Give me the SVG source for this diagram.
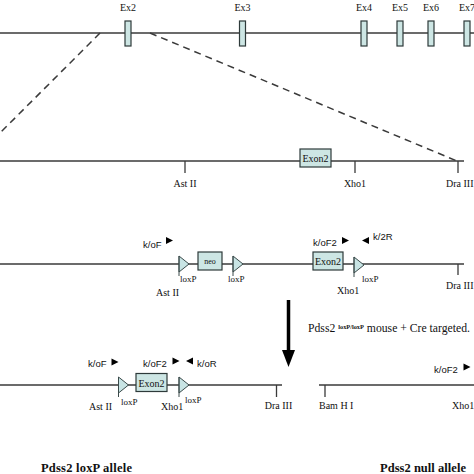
<svg xmlns="http://www.w3.org/2000/svg" width="474" height="474" viewBox="0 0 474 474">
<style>
.ln{stroke:#3a3a3a;stroke-width:1.5;fill:none}
.dash{stroke:#3a3a3a;stroke-width:1.5;fill:none;stroke-dasharray:7,5}
.tick{stroke:#3a3a3a;stroke-width:1.3}
.ex{fill:#cde6e4;stroke:#2e3a3a;stroke-width:1.2}
.lox{fill:#c8e4e4;stroke:#3a4a4a;stroke-width:1}
.ser{font-family:"Liberation Serif","Times New Roman",serif;font-size:10px;fill:#111}
.sm{font-family:"Liberation Serif","Times New Roman",serif;font-size:9px;fill:#111}
.san{font-family:"Liberation Sans",Arial,sans-serif;font-size:9.5px;fill:#111}
.ttl{font-family:"Liberation Serif","Times New Roman",serif;font-size:12.5px;font-weight:bold;fill:#111}
.cre{font-family:"Liberation Serif","Times New Roman",serif;font-size:12px;fill:#111}
.sup{font-size:6.5px;font-weight:bold}
.neo{font-family:"Liberation Serif","Times New Roman",serif;font-size:8px;fill:#111}
.pr{fill:#000}
</style>
<defs>
<g id="loxp"><polygon class="lox" points="0,0 10,8 0,16"/><line x1="0" y1="0" x2="0" y2="20" stroke="#3a4a4a" stroke-width="1"/></g>
<polygon id="pR" class="pr" points="0,-3.5 7,0 0,3.5"/>
<polygon id="pL" class="pr" points="7,-3.5 0,0 7,3.5"/>
</defs>

<g id="connectors">
<line class="ln" x1="0" y1="33" x2="474" y2="33"/>
<line class="dash" x1="100" y1="33" x2="0" y2="133"/>
<line class="dash" x1="150" y1="33" x2="457" y2="161"/>
<line class="ln" x1="0" y1="161" x2="464" y2="161"/>
<line class="ln" x1="0" y1="264" x2="464" y2="264"/>
<line class="ln" x1="0" y1="385" x2="282" y2="385"/>
<line class="ln" x1="319" y1="385" x2="474" y2="385"/>
<g id="cre-arrow">
<line x1="288.5" y1="300" x2="288.5" y2="352" stroke="#000" stroke-width="3.5"/>
<polygon points="282,350 295,350 288.5,367" fill="#000"/>
</g>
</g>

<g id="wt-locus">
<g id="ex2"><rect class="ex" x="125" y="21" width="6" height="25"/><text class="ser" x="128" y="11" text-anchor="middle">Ex2</text></g>
<g id="ex3"><rect class="ex" x="239.5" y="21" width="6" height="25"/><text class="ser" x="242.5" y="11" text-anchor="middle">Ex3</text></g>
<g id="ex4"><rect class="ex" x="361" y="21" width="6" height="25"/><text class="ser" x="364" y="11" text-anchor="middle">Ex4</text></g>
<g id="ex5"><rect class="ex" x="397" y="21" width="6" height="25"/><text class="ser" x="400" y="11" text-anchor="middle">Ex5</text></g>
<g id="ex6"><rect class="ex" x="428" y="21" width="6" height="25"/><text class="ser" x="431" y="11" text-anchor="middle">Ex6</text></g>
<g id="ex7"><rect class="ex" x="464" y="21" width="6" height="25"/><text class="ser" x="467" y="11" text-anchor="middle">Ex7</text></g>
</g>

<g id="row2">
<g id="r2-ast"><line class="tick" x1="185" y1="161" x2="185" y2="173"/><text class="ser" x="185" y="187" text-anchor="middle">Ast II</text></g>
<g id="r2-exon2"><rect class="ex" x="300" y="149" width="31" height="18"/><text class="ser" x="315.5" y="162" text-anchor="middle">Exon2</text></g>
<g id="r2-xho"><line class="tick" x1="355" y1="161" x2="355" y2="173"/><text class="ser" x="355" y="187" text-anchor="middle">Xho1</text></g>
<g id="r2-dra"><line class="tick" x1="458" y1="161" x2="458" y2="173"/><text class="ser" x="446" y="187">Dra III</text></g>
</g>

<g id="row3">
<g id="r3-kof"><text class="san" x="143" y="248">k/oF</text><use href="#pR" x="166" y="240.5"/></g>
<g id="r3-lox1"><use href="#loxp" x="179" y="256"/><text class="sm" x="180" y="282">loxP</text></g>
<g id="r3-ast"><text class="ser" x="156" y="296">Ast II</text></g>
<g id="r3-neo"><rect class="ex" x="198" y="252" width="24" height="18"/><text class="neo" x="210" y="264" text-anchor="middle">neo</text></g>
<g id="r3-lox2"><use href="#loxp" x="233" y="256"/><text class="sm" x="228" y="282">loxP</text></g>
<g id="r3-kof2"><text class="san" x="313" y="246">k/oF2</text><use href="#pR" x="342" y="240.5"/></g>
<g id="r3-k2r"><use href="#pL" x="362" y="240.5"/><text class="san" x="373" y="240">k/2R</text></g>
<g id="r3-exon2"><rect class="ex" x="313" y="252" width="30" height="18"/><text class="ser" x="328" y="265" text-anchor="middle">Exon2</text></g>
<g id="r3-lox3"><use href="#loxp" x="354" y="257"/><text class="sm" x="362" y="282">loxP</text></g>
<g id="r3-xho"><text class="ser" x="337" y="294">Xho1</text></g>
<g id="r3-dra"><line class="tick" x1="458" y1="264" x2="458" y2="275"/><text class="ser" x="446" y="289">Dra III</text></g>
</g>

<g id="cre-label"><text class="cre" x="308" y="332" textLength="162" lengthAdjust="spacingAndGlyphs">Pdss2 <tspan class="sup" dy="-3">loxP/loxP</tspan><tspan dy="3"> mouse + Cre targeted.</tspan></text></g>

<g id="row4-lox">
<g id="r4-kof"><text class="san" x="88" y="367">k/oF</text><use href="#pR" x="111.5" y="362"/></g>
<g id="r4-kof2"><text class="san" x="143" y="367">k/oF2</text><use href="#pR" x="172.5" y="361"/></g>
<g id="r4-kor"><use href="#pL" x="186" y="361"/><text class="san" x="197" y="367">k/oR</text></g>
<g id="r4-lox1"><use href="#loxp" x="118.5" y="377"/><text class="sm" x="121" y="405">loxP</text></g>
<g id="r4-exon2"><rect class="ex" x="136" y="373.5" width="31" height="18"/><text class="ser" x="151.5" y="386.5" text-anchor="middle">Exon2</text></g>
<g id="r4-lox2"><use href="#loxp" x="179" y="377"/><text class="sm" x="185" y="403">loxP</text></g>
<g id="r4-ast"><text class="ser" x="89" y="410">Ast II</text></g>
<g id="r4-xho"><text class="ser" x="161" y="410">Xho1</text></g>
<g id="r4-dra"><line class="tick" x1="276.5" y1="385" x2="276.5" y2="397"/><text class="ser" x="278.5" y="409" text-anchor="middle">Dra III</text></g>
</g>

<g id="row4-null">
<g id="r4-bam"><line class="tick" x1="325" y1="385" x2="325" y2="397"/><text class="ser" x="319" y="409">Bam H I</text></g>
<g id="r4-kof2b"><text class="san" x="434" y="373">k/oF2</text><use href="#pR" x="463.5" y="367"/></g>
<g id="r4-xhob"><text class="ser" x="452" y="409">Xho1</text></g>
</g>

<g id="titles">
<text class="ttl" x="41" y="472" textLength="91">Pdss2  loxP  allele</text>
<text class="ttl" x="380" y="472" textLength="86">Pdss2 null  allele</text>
</g>
</svg>
